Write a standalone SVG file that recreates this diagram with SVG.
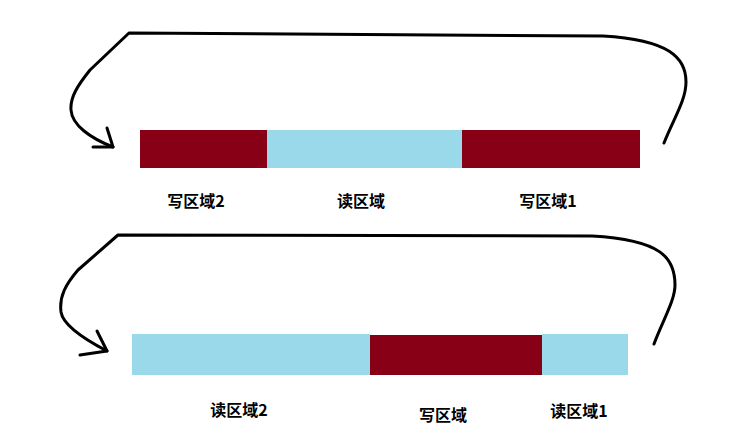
<svg xmlns="http://www.w3.org/2000/svg" width="752" height="445" viewBox="0 0 752 445">
<style>
.w{fill:#880015}
.r{fill:#99D9EA}
.t{font-family:"Noto Sans CJK SC","Liberation Sans",sans-serif;font-size:16px;font-weight:bold;fill:#000;text-anchor:middle}
.c{fill:none;stroke:#000;stroke-width:3;stroke-linecap:round;stroke-linejoin:round}
</style>
<rect width="752" height="445" fill="#fff"/>
<g id="top-write2"><rect class="w" x="140" y="130" width="127" height="38"/><text class="t" x="196" y="207">写区域2</text></g>
<g id="top-read"><rect class="r" x="267" y="130" width="195" height="38"/><text class="t" x="361" y="207">读区域</text></g>
<g id="top-write1"><rect class="w" x="462" y="130" width="178" height="38"/><text class="t" x="548" y="207">写区域1</text></g>
<g id="bot-read2"><rect class="r" x="132" y="334" width="238" height="41"/><text class="t" x="239" y="416">读区域2</text></g>
<g id="bot-write"><rect class="w" x="370" y="335" width="172" height="40"/><text class="t" x="443" y="421">写区域</text></g>
<g id="bot-read1"><rect class="r" x="542" y="334" width="86" height="41"/><text class="t" x="579" y="417">读区域1</text></g>
<g id="connectors">
<path class="c" d="M664,143 C674,118 686,100 686,82 C686,58 670,40 603,36 L129,33 L90,70 C78,85 70,97 71,110 C72,125 90,138 113,147"/>
<path class="c" d="M107,128 L113,147 L93,147"/>
<path class="c" d="M654,344 C664,318 675,300 675,285 C675,258 662,240 592,236 L118,235 L78,270 C66,284 59,296 61,312 C63,325 82,338 107,351"/>
<path class="c" d="M97,331 L107,351 L80,355"/>
</g>
</svg>
